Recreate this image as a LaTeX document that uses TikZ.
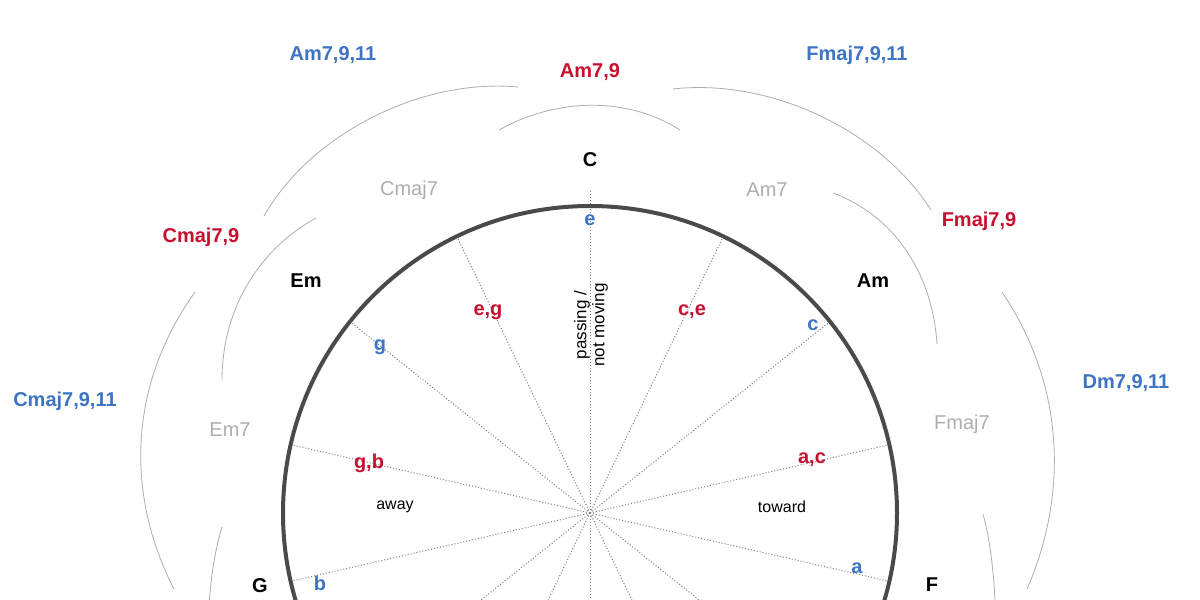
\documentclass[tikz,border=0pt]{standalone}
\usepackage{fontspec}
\setmainfont{Liberation Sans}
\definecolor{cred}{HTML}{C8102E}
\definecolor{cblue}{HTML}{3D74C4}
\definecolor{cgray}{HTML}{AEAEAE}
\definecolor{cring}{HTML}{4A4A4A}
\begin{document}
\begin{tikzpicture}[x=1pt,y=-1pt,
  lab/.style={font=\bfseries\fontsize{20}{20}\selectfont,inner sep=1pt},
  rl/.style={lab,text=cred},
  bl/.style={lab,text=cblue},
  gl/.style={lab,font=\fontsize{20}{20}\selectfont,text=cgray},
  kl/.style={lab,text=black},
  note/.style={font=\fontsize{16}{16}\selectfont,inner sep=1pt},
  arcline/.style={cgray,line width=0.8pt},
  ray/.style={gray,dotted,line width=1pt}]
\useasboundingbox (0,0) rectangle (1200,600);
\fill[white] (0,0) rectangle (1200,600);
\coordinate (O) at (590,513);
% rays
\foreach \k in {0,...,13}{
  \pgfmathsetmacro{\ang}{90+\k*360/14}
  \ifnum\k=0
    \draw[ray] (O) -- ++({323*cos(\ang)},{-323*sin(\ang)});
  \else
    \draw[ray] (O) -- ++({307*cos(\ang)},{-307*sin(\ang)});
  \fi
}
\draw[cring,line width=4pt] (O) circle[radius=307];
% arcs
\draw[arcline] (518,87) .. controls (420,78) and (310,135) .. (264,216);
\draw[arcline] (499,130) .. controls (560,96) and (630,98) .. (680,130);
\draw[arcline] (316,218) .. controls (258,250) and (222,310) .. (222,380);
\draw[arcline] (195,292) .. controls (125,390) and (128,500) .. (174,589);
\draw[arcline] (222,527) .. controls (212,560) and (208,600) .. (208,640);
\draw[arcline] (673,89) .. controls (770,78) and (880,130) .. (931,210);
\draw[arcline] (833,193) .. controls (892,215) and (932,270) .. (937,344);
\draw[arcline] (1002,292) .. controls (1068,390) and (1066,500) .. (1027,589);
\draw[arcline] (983,514) .. controls (993,550) and (996,600) .. (996,640);
% labels
\node[bl] (n1) at (333,55) {Am7,9,11};
\node[rl] (n2) at (590,72) {Am7,9};
\node[bl] (n3) at (857,55) {Fmaj7,9,11};
\node[gl] (n4) at (409,190) {Cmaj7};
\node[gl] (n5) at (767,190) {Am7};
\node[kl] (n6) at (590,160) {C};
\node[rl] (n7) at (201,237) {Cmaj7,9};
\node[rl] (n8) at (979,221) {Fmaj7,9};
\node[kl] (n9) at (306,281) {Em};
\node[kl] (n10) at (873,281) {Am};
\node[bl] (n11) at (65,401) {Cmaj7,9,11};
\node[bl] (n12) at (1126,383) {Dm7,9,11};
\node[gl] (n13) at (230,430) {Em7};
\node[gl] (n14) at (962,424) {Fmaj7};
\node[kl] (n15) at (260,586) {G};
\node[kl] (n16) at (932,585) {F};
\node[bl] (n17) at (590,220) {e};
\node[rl] (n18) at (488,312) {e,g};
\node[rl] (n19) at (692,312) {c,e};
\node[bl] (n20) at (380,347) {g};
\node[bl] (n21) at (813,325) {c};
\node[rl] (n22) at (369,463) {g,b};
\node[rl] (n23) at (812,460) {a,c};
\node[note] (n24) at (395,507) {away};
\node[note] (n25) at (782,507) {toward};
\node[bl] (n26) at (320,583) {b};
\node[bl] (n27) at (857,568) {a};
\node[note,rotate=90,align=center,font=\fontsize{17}{18}\selectfont] (n28) at (591,325) {passing /\\not moving};
\node[rl] (n29) at (150,611) {Em7,9};
\node[rl] (n30) at (1063,611) {Dm7,9};
\end{tikzpicture}
\end{document}
